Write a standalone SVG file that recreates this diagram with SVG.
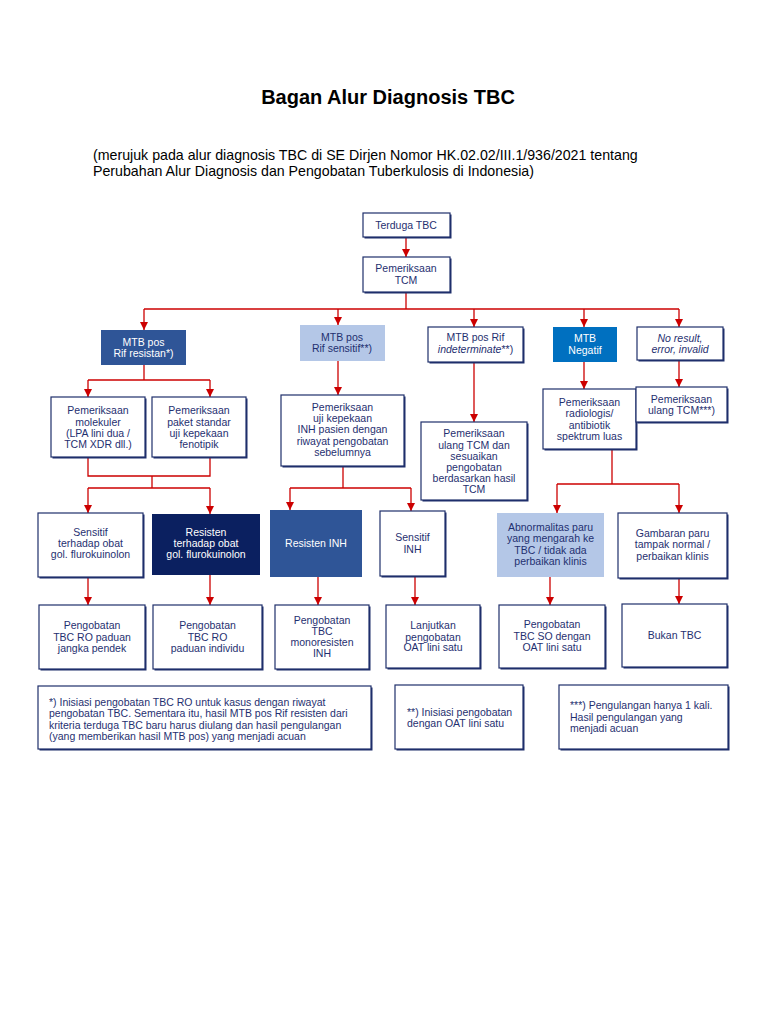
<svg xmlns="http://www.w3.org/2000/svg" width="768" height="1024" viewBox="0 0 768 1024">
<defs>
<marker id="ah" markerUnits="userSpaceOnUse" markerWidth="9" markerHeight="9" refX="8" refY="4" orient="auto">
<path d="M0,0 L8,4 L0,8 z" fill="#CC0000"/>
</marker>
</defs>
<style>
.sh{fill:#1F2F6B}
.bx{fill:#ffffff;stroke:#1F2F6B;stroke-width:1.2}
.t{font-family:"Liberation Sans",Arial,sans-serif;font-size:10.5px;fill:#1F3070;text-anchor:middle}
.tl{font-family:"Liberation Sans",Arial,sans-serif;font-size:10.5px;fill:#1F3070;text-anchor:start}
.w{fill:#ffffff}
.i{font-style:italic}
.c{stroke:#CC0000;stroke-width:1.3;fill:none}
.a{stroke:#CC0000;stroke-width:1.3;fill:none;marker-end:url(#ah)}
</style>
<rect width="768" height="1024" fill="#ffffff"/>
<text x="388" y="104" font-family="Liberation Sans,Arial,sans-serif" font-size="20" font-weight="bold" text-anchor="middle" fill="#000">Bagan Alur Diagnosis TBC</text>
<text font-family="Liberation Sans,Arial,sans-serif" font-size="14.2" fill="#000"><tspan x="93" y="160">(merujuk pada alur diagnosis TBC di SE Dirjen Nomor HK.02.02/III.1/936/2021 tentang</tspan><tspan x="93" y="176">Perubahan Alur Diagnosis dan Pengobatan Tuberkulosis di Indonesia)</tspan></text>

<g id="connectors">
<line class="a" x1="406" y1="237" x2="406" y2="257"/>
<line class="c" x1="406" y1="292" x2="406" y2="309"/>
<line class="c" x1="144" y1="309" x2="679" y2="309"/>
<line class="a" x1="144" y1="309" x2="144" y2="330"/>
<line class="a" x1="338" y1="309" x2="338" y2="325"/>
<line class="a" x1="474" y1="309" x2="474" y2="327"/>
<line class="a" x1="584" y1="309" x2="584" y2="327"/>
<line class="a" x1="679" y1="309" x2="679" y2="327"/>
<line class="c" x1="144" y1="365" x2="144" y2="380"/>
<line class="c" x1="88" y1="380" x2="210" y2="380"/>
<line class="a" x1="88" y1="380" x2="88" y2="397"/>
<line class="a" x1="210" y1="380" x2="210" y2="397"/>
<polyline class="c" points="88,457 88,476 210,476 210,457"/>
<line class="c" x1="152" y1="476" x2="152" y2="488"/>
<line class="c" x1="88" y1="488" x2="210" y2="488"/>
<line class="a" x1="88" y1="488" x2="88" y2="513"/>
<line class="a" x1="210" y1="488" x2="210" y2="514"/>
<line class="a" x1="338" y1="361" x2="338" y2="395"/>
<line class="c" x1="343" y1="466" x2="343" y2="488"/>
<line class="c" x1="290" y1="488" x2="411" y2="488"/>
<line class="a" x1="290" y1="488" x2="290" y2="510"/>
<line class="a" x1="411" y1="488" x2="411" y2="511"/>
<line class="a" x1="474" y1="362" x2="474" y2="422"/>
<line class="a" x1="584" y1="362" x2="584" y2="389"/>
<line class="a" x1="679" y1="360" x2="679" y2="387"/>
<line class="c" x1="612" y1="449" x2="612" y2="484"/>
<line class="c" x1="557" y1="484" x2="679" y2="484"/>
<line class="a" x1="557" y1="484" x2="557" y2="513"/>
<line class="a" x1="679" y1="484" x2="679" y2="513"/>
<line class="a" x1="88" y1="577" x2="88" y2="605"/>
<line class="a" x1="210" y1="575" x2="210" y2="605"/>
<line class="a" x1="318" y1="577" x2="318" y2="605"/>
<line class="a" x1="415" y1="576" x2="415" y2="605"/>
<line class="a" x1="550" y1="577" x2="550" y2="605"/>
<line class="a" x1="679" y1="578" x2="679" y2="604"/>
</g>

<g id="terduga">
<rect class="sh" x="364.5" y="214.5" width="87" height="24"/>
<rect class="bx" x="363" y="213" width="87" height="24"/>
<text class="t" x="406" y="229">Terduga TBC</text>
</g>
<g id="tcm">
<rect class="sh" x="364.5" y="258.5" width="87" height="35"/>
<rect class="bx" x="363" y="257" width="87" height="35"/>
<text class="t"><tspan x="406" y="272">Pemeriksaan</tspan><tspan x="406" y="284">TCM</tspan></text>
</g>
<g id="rifres">
<rect x="101" y="330" width="85" height="35" fill="#2F5597"/>
<text class="t w"><tspan x="143.5" y="346">MTB pos</tspan><tspan x="143.5" y="357">Rif resistan*)</tspan></text>
</g>
<g id="rifsens">
<rect x="300" y="325" width="85" height="36" fill="#B4C7E7"/>
<text class="t"><tspan x="342" y="341">MTB pos</tspan><tspan x="342" y="352">Rif sensitif**)</tspan></text>
</g>
<g id="indet">
<rect class="sh" x="429.5" y="328.5" width="95" height="35"/>
<rect class="bx" x="428" y="327" width="95" height="35"/>
<text class="t"><tspan x="475.5" y="341">MTB pos Rif</tspan><tspan x="475.5" y="353"><tspan class="i">indeterminate</tspan>**)</tspan></text>
</g>
<g id="negatif">
<rect x="553" y="327" width="64" height="35" fill="#0070C0"/>
<text class="t w"><tspan x="585" y="342">MTB</tspan><tspan x="585" y="354">Negatif</tspan></text>
</g>
<g id="noresult">
<rect class="sh" x="638.5" y="328.5" width="86" height="33"/>
<rect class="bx" x="637" y="327" width="86" height="33"/>
<text class="t i"><tspan x="680" y="342">No result,</tspan><tspan x="680" y="353">error, invalid</tspan></text>
</g>
<g id="molekuler">
<rect class="sh" x="52.5" y="398.5" width="94" height="60"/>
<rect class="bx" x="51" y="397" width="94" height="60"/>
<text class="t"><tspan x="98" y="414">Pemeriksaan</tspan><tspan x="98" y="426">molekuler</tspan><tspan x="98" y="437">(LPA lini dua /</tspan><tspan x="98" y="448">TCM XDR dll.)</tspan></text>
</g>
<g id="paket">
<rect class="sh" x="153.5" y="398.5" width="94" height="60"/>
<rect class="bx" x="152" y="397" width="94" height="60"/>
<text class="t"><tspan x="199" y="414">Pemeriksaan</tspan><tspan x="199" y="426">paket standar</tspan><tspan x="199" y="437">uji kepekaan</tspan><tspan x="199" y="448">fenotipik</tspan></text>
</g>
<g id="ujiinh">
<rect class="sh" x="282.5" y="396.5" width="123" height="71"/>
<rect class="bx" x="281" y="395" width="123" height="71"/>
<text class="t"><tspan x="342.5" y="411">Pemeriksaan</tspan><tspan x="342.5" y="422">uji kepekaan</tspan><tspan x="342.5" y="433">INH pasien dengan</tspan><tspan x="342.5" y="445">riwayat pengobatan</tspan><tspan x="342.5" y="456">sebelumnya</tspan></text>
</g>
<g id="ulangtcm">
<rect class="sh" x="422.5" y="423.5" width="106" height="78"/>
<rect class="bx" x="421" y="422" width="106" height="78"/>
<text class="t"><tspan x="474" y="437">Pemeriksaan</tspan><tspan x="474" y="448.5">ulang TCM dan</tspan><tspan x="474" y="460">sesuaikan</tspan><tspan x="474" y="471">pengobatan</tspan><tspan x="474" y="482">berdasarkan hasil</tspan><tspan x="474" y="493">TCM</tspan></text>
</g>
<g id="radiologis">
<rect class="sh" x="544.5" y="390.5" width="93" height="60"/>
<rect class="bx" x="543" y="389" width="93" height="60"/>
<text class="t"><tspan x="589.5" y="406">Pemeriksaan</tspan><tspan x="589.5" y="417">radiologis/</tspan><tspan x="589.5" y="429">antibiotik</tspan><tspan x="589.5" y="440">spektrum luas</tspan></text>
</g>
<g id="ulangtcm3">
<rect class="sh" x="637.5" y="388.5" width="91" height="35"/>
<rect class="bx" x="636" y="387" width="91" height="35"/>
<text class="t"><tspan x="681.5" y="403">Pemeriksaan</tspan><tspan x="681.5" y="414">ulang TCM***)</tspan></text>
</g>
<g id="sensfq">
<rect class="sh" x="39.5" y="514.5" width="105" height="64"/>
<rect class="bx" x="38" y="513" width="105" height="64"/>
<text class="t"><tspan x="90.5" y="536">Sensitif</tspan><tspan x="90.5" y="547">terhadap obat</tspan><tspan x="90.5" y="558">gol. flurokuinolon</tspan></text>
</g>
<g id="resfq">
<rect x="152" y="514" width="108" height="61" fill="#0B2060"/>
<text class="t w"><tspan x="206" y="536">Resisten</tspan><tspan x="206" y="547">terhadap obat</tspan><tspan x="206" y="558">gol. flurokuinolon</tspan></text>
</g>
<g id="resinh">
<rect x="270" y="510" width="92" height="67" fill="#2F5597"/>
<text class="t w" x="316" y="547">Resisten INH</text>
</g>
<g id="sensinh">
<rect class="sh" x="381.5" y="512.5" width="65" height="65"/>
<rect class="bx" x="380" y="511" width="65" height="65"/>
<text class="t"><tspan x="412.5" y="541">Sensitif</tspan><tspan x="412.5" y="553">INH</tspan></text>
</g>
<g id="abnormal">
<rect x="497" y="513" width="107" height="64" fill="#B4C7E7"/>
<text class="t"><tspan x="550.5" y="531">Abnormalitas paru</tspan><tspan x="550.5" y="542">yang mengarah ke</tspan><tspan x="550.5" y="554">TBC / tidak ada</tspan><tspan x="550.5" y="565">perbaikan klinis</tspan></text>
</g>
<g id="gambaran">
<rect class="sh" x="619.5" y="514.5" width="109" height="65"/>
<rect class="bx" x="618" y="513" width="109" height="65"/>
<text class="t"><tspan x="672.5" y="537">Gambaran paru</tspan><tspan x="672.5" y="548">tampak normal /</tspan><tspan x="672.5" y="560">perbaikan klinis</tspan></text>
</g>
<g id="jangka">
<rect class="sh" x="40.5" y="606.5" width="106" height="64"/>
<rect class="bx" x="39" y="605" width="106" height="64"/>
<text class="t"><tspan x="92" y="629">Pengobatan</tspan><tspan x="92" y="641">TBC RO paduan</tspan><tspan x="92" y="652">jangka pendek</tspan></text>
</g>
<g id="individu">
<rect class="sh" x="154.5" y="606.5" width="109" height="64"/>
<rect class="bx" x="153" y="605" width="109" height="64"/>
<text class="t"><tspan x="207.5" y="629">Pengobatan</tspan><tspan x="207.5" y="641">TBC RO</tspan><tspan x="207.5" y="652">paduan individu</tspan></text>
</g>
<g id="mono">
<rect class="sh" x="276.5" y="606.5" width="94" height="64"/>
<rect class="bx" x="275" y="605" width="94" height="64"/>
<text class="t"><tspan x="322" y="624">Pengobatan</tspan><tspan x="322" y="635">TBC</tspan><tspan x="322" y="646">monoresisten</tspan><tspan x="322" y="657">INH</tspan></text>
</g>
<g id="lanjut">
<rect class="sh" x="387.5" y="606.5" width="94" height="63"/>
<rect class="bx" x="386" y="605" width="94" height="63"/>
<text class="t"><tspan x="433" y="629">Lanjutkan</tspan><tspan x="433" y="641">pengobatan</tspan><tspan x="433" y="651">OAT lini satu</tspan></text>
</g>
<g id="tbcso">
<rect class="sh" x="500.5" y="606.5" width="106" height="63"/>
<rect class="bx" x="499" y="605" width="106" height="63"/>
<text class="t"><tspan x="552" y="628">Pengobatan</tspan><tspan x="552" y="640">TBC SO dengan</tspan><tspan x="552" y="651">OAT lini satu</tspan></text>
</g>
<g id="bukan">
<rect class="sh" x="623.5" y="605.5" width="105" height="63"/>
<rect class="bx" x="622" y="604" width="105" height="63"/>
<text class="t" x="674.5" y="639">Bukan TBC</text>
</g>
<g id="note1">
<rect class="sh" x="39.5" y="687.5" width="333" height="63"/>
<rect class="bx" x="38" y="686" width="333" height="63"/>
<text class="tl"><tspan x="49" y="705.5">*) Inisiasi pengobatan TBC RO untuk kasus dengan riwayat</tspan><tspan x="49" y="717">pengobatan TBC. Sementara itu, hasil MTB pos Rif resisten dari</tspan><tspan x="49" y="728.5">kriteria terduga TBC baru harus diulang dan hasil pengulangan</tspan><tspan x="49" y="740">(yang memberikan hasil MTB pos) yang menjadi acuan</tspan></text>
</g>
<g id="note2">
<rect class="sh" x="396.5" y="686.5" width="128" height="64"/>
<rect class="bx" x="395" y="685" width="128" height="64"/>
<text class="tl"><tspan x="407" y="715.5">**) Inisiasi pengobatan</tspan><tspan x="407" y="726.5">dengan OAT lini satu</tspan></text>
</g>
<g id="note3">
<rect class="sh" x="560.5" y="686.5" width="169" height="64"/>
<rect class="bx" x="559" y="685" width="169" height="64"/>
<text class="tl"><tspan x="570" y="709">***) Pengulangan hanya 1 kali.</tspan><tspan x="570" y="720.5">Hasil pengulangan yang</tspan><tspan x="570" y="732">menjadi acuan</tspan></text>
</g>
</svg>
